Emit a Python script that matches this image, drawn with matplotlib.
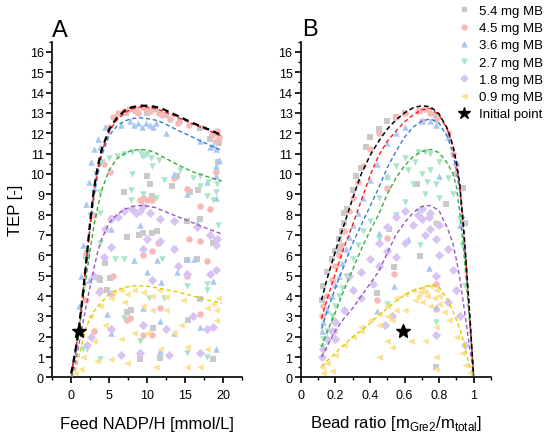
import matplotlib
matplotlib.use("Agg")
import matplotlib.pyplot as plt
from matplotlib.ticker import MultipleLocator, FixedLocator
from matplotlib.lines import Line2D

plt.rcParams["font.family"] = ["Liberation Sans", "DejaVu Sans"]
plt.rcParams["mathtext.fontset"] = "custom"
plt.rcParams["mathtext.rm"] = "Liberation Sans"

labels = ["5.4 mg MB", "4.5 mg MB", "3.6 mg MB", "2.7 mg MB", "1.8 mg MB", "0.9 mg MB"]
markers = ["s", "o", "^", "v", "D", "<"]
pale = ["#c9c9c9", "#f8b9b9", "#aac8f2", "#a8e6c8", "#d8c4f2", "#fde192"]
lines = ["#000000", "#ff1a1a", "#2f7fd0", "#3aaa3a", "#9a55c4", "#d8d000"]

# ---- panel A: TEP vs feed NADP/H ----
a_x5 = [7.2, 8.5, 10, 11, 12.5, 14.3, 17, 18.3, 19.1, 19.5, 6.9, 10, 10.4, 10.6, 13.2, 13.9, 15.6, 16.7,
        8.9, 9.5, 10.6, 11.3, 7.3, 15.2, 16.9, 15.2, 16.5, 18.7, 19.1, 3.8, 4.7, 7.8, 7.4, 10.8, 11.7, 9.1,
        15.4, 17, 2.1, 18.7, 4.5, 19.3, 1.9, 3.7, 5.1]
a_y5 = [13.0, 13.1, 13.0, 13.2, 12.9, 12.6, 12.25, 11.7, 12.0, 11.5, 9.1, 9.9, 9.5, 8.9, 9.4, 9.9, 9.1, 9.2,
        7.0, 7.1, 7.1, 7.2, 6.9, 7.7, 7.8, 5.75, 5.8, 6.6, 6.75, 4.8, 4.3, 3.3, 3.2, 2.45, 0.95, 0.9,
        2.8, 3.85, 6.1, 0.9, 5.6, 10.6, 5.95, 4.9, 4.9]
a_x4 = [5, 5.5, 6.2, 7, 7.6, 8.2, 8.8, 9.3, 9.8, 10.3, 10.8, 11.5, 12, 13, 14, 15.5, 18.5, 19, 19.5, 19.2,
        4.3, 5.1, 3.8, 9.1, 10, 10.6, 9.5, 15.2, 17, 19, 13.5, 3.0, 5.2, 11.4, 10.6, 9.4, 15.5, 16.9, 17.8,
        15.2, 5.5, 3.8, 7.4, 7.7, 9.4, 10.6, 11.7, 17, 3.0, 2.0, 18.3]
a_y4 = [12.3, 12.8, 13.0, 13.1, 13.2, 13.2, 13.0, 13.3, 13.2, 13.1, 13.2, 13.0, 12.9, 12.7, 12.5, 12.4, 11.9, 11.6, 11.8, 12.1,
        10.5, 10.1, 10.6, 8.7, 8.7, 8.7, 8.8, 9.25, 8.4, 10.1, 9.8, 8.0, 7.85, 6.6, 6.2, 6.0, 6.8, 6.7, 5.7,
        5.0, 5.0, 4.3, 2.8, 2.9, 2.1, 2.1, 3.4, 3.1, 2.3, 3.8, 8.3]
a_x3 = [2.6, 3.0, 3.5, 4.5, 6.5, 7.7, 8.3, 8.8, 9.3, 9.8, 10.3, 10.8, 11.2, 12.5, 17.0, 18.3, 18.7, 19.1, 19.4,
        1.0, 1.3, 1.6, 2.0, 2.3, 3.8, 3.0, 13.5, 15.2, 17.8, 19.1, 19.1, 19.1, 9.5,
        5.2, 9.1, 16.5, 8.3, 11.3, 15.2, 16.1, 10, 13.9, 18.7, 4.7, 9.4, 11.7, 11.7, 13.5, 17, 19.1, 2.4, 5.2, 11.8]
a_y3 = [10.6, 11.2, 11.7, 12.3, 12.4, 12.6, 12.4, 12.5, 12.3, 12.5, 12.4, 12.3, 12.5, 12.0, 11.6, 11.3, 11.4, 11.2, 10.7,
        3.5, 5.0, 6.5, 8.5, 9.6, 11.3, 9.3, 10.0, 9.0, 9.6, 10.4, 9.9, 8.8, 11.0,
        7.3, 7.5, 7.6, 5.75, 5.75, 5.8, 5.8, 5.2, 5.2, 4.75, 3.1, 3.4, 2.75, 1.3, 2.2, 2.5, 1.4, 4.8, 2.2, 4.7]
a_x2 = [3.3, 4.0, 5.0, 6.0, 7.0, 8.0, 9.0, 9.5, 10.0, 10.5, 11.5, 16, 17, 18, 19.2,
        7.8, 7.8, 9.4, 11.1, 17, 17.8, 18.7, 19.1, 14.3, 3.8, 3.8, 10.6, 8.0, 12.2,
        3.8, 6.9, 2.0, 13.5, 15.2, 17.8, 10.2, 1.6, 3.8, 15.2, 17.8, 17.8, 9.1, 6.9, 2.1, 5.8, 12.0, 2.5, 12.2, 19.3]
a_y2 = [10.0, 10.6, 10.8, 10.9, 11.0, 11.1, 11.1, 10.9, 11.0, 10.8, 10.7, 9.8, 9.9, 9.6, 9.5,
        9.2, 8.7, 9.0, 8.8, 9.4, 8.9, 8.7, 9.1, 10.2, 9.1, 8.1, 10.4, 10.0, 9.7,
        6.6, 5.8, 5.75, 6.3, 4.5, 4.6, 3.9, 1.4, 0.9, 1.2, 1.0, 4.3, 1.8, 2.9, 1.4, 5.8, 5.8, 8.0, 3.9, 7.5]
a_x1 = [5.2, 6.1, 7.0, 8.0, 9.1, 10.4, 11.7, 13.5, 18.3, 19.1, 10, 11.7, 9.4, 13.5, 5.2, 4.3, 15.2, 18.3, 19.1,
        5.2, 9.4, 12.5, 5.2, 6.5, 9.1, 12.9, 17, 17.8, 18.7, 2.1, 4.5, 8.5, 16.5, 19.2, 14.0, 3.0, 2.6, 3.7,
        10.6, 16, 9.5]
a_y1 = [7.8, 7.9, 8.2, 8.3, 8.2, 8.1, 7.8, 7.7, 7.0, 6.5, 6.8, 6.7, 6.3, 6.3, 6.4, 5.9, 5.1, 5.1, 5.3,
        4.1, 2.6, 2.4, 2.4, 1.1, 1.2, 1.1, 1.2, 2.4, 2.5, 1.6, 7.3, 8.1, 7.4, 6.8, 5.5, 5.0, 2.0, 4.2,
        4.8, 3.0, 8.4]
a_x0 = [5.2, 5.5, 6.5, 7.3, 8.3, 9.4, 10.6, 11.5, 12.5, 14.7, 17.8, 19.1, 19.1, 18.7, 19.3, 9.4, 10.6, 3.8,
        2.5, 6.5, 8.3, 10, 11.7, 13.5, 15.2, 17, 1.6, 3.4, 5.2, 7.4, 11.1, 1.3, 0.5, 15.2, 17.8, 4.5, 7.0,
        12.5, 3.0, 14.5]
a_y0 = [3.9, 4.2, 4.3, 4.1, 4.3, 4.2, 4.0, 4.3, 3.95, 3.8, 3.4, 3.3, 2.8, 3.6, 3.9, 3.5, 3.3, 3.5,
        3.0, 1.9, 2.2, 2.2, 1.4, 2.2, 1.5, 0.5, 1.0, 0.8, 0.9, 0.7, 0.5, 0.4, 0.2, 0.5, 1.4, 2.6, 3.7,
        3.3, 1.8, 2.6]

# fitted model curves
a_fit_x = [0, 0.5, 1, 1.5, 2, 2.5, 3, 3.5, 4, 5, 6, 7, 8, 9, 10, 11, 12, 14, 16, 18, 19.8]
a_fit5 = [0.2, 1.2, 2.4, 4.0, 5.8, 7.7, 9.3, 10.4, 11.2, 12.2, 12.75, 13.1, 13.28, 13.35, 13.35, 13.3, 13.2, 12.85, 12.5, 12.2, 11.9]
a_fit4 = [0.2, 1.2, 2.4, 4.0, 5.8, 7.6, 9.2, 10.3, 11.1, 12.1, 12.65, 13.0, 13.2, 13.28, 13.28, 13.22, 13.1, 12.78, 12.45, 12.15, 11.85]
a_fit3 = [0.2, 1.2, 2.4, 4.0, 5.7, 7.4, 8.9, 10.0, 10.9, 11.9, 12.35, 12.6, 12.72, 12.76, 12.72, 12.65, 12.52, 12.15, 11.8, 11.45, 11.15]
a_fit2 = [0.1, 1.0, 2.2, 3.6, 5.0, 6.3, 7.5, 8.4, 9.2, 10.2, 10.75, 11.0, 11.15, 11.2, 11.18, 11.05, 10.85, 10.45, 10.1, 9.85, 9.65]
a_fit1 = [0.0, 0.6, 1.6, 2.6, 3.6, 4.5, 5.4, 6.2, 6.8, 7.6, 8.0, 8.25, 8.4, 8.45, 8.42, 8.35, 8.2, 7.9, 7.6, 7.3, 7.05]
a_fit0 = [0.0, 0.3, 1.0, 1.8, 2.5, 2.9, 3.25, 3.5, 3.7, 4.1, 4.3, 4.42, 4.5, 4.5, 4.48, 4.42, 4.35, 4.2, 4.0, 3.8, 3.65]

# ---- panel B: TEP vs bead ratio ----
b_x5 = [0.12, 0.13, 0.15, 0.18, 0.2, 0.22, 0.24, 0.25, 0.27, 0.3, 0.32, 0.35, 0.38, 0.4, 0.45, 0.5, 0.55, 0.6,
        0.69, 0.78, 0.9, 0.94, 0.95, 0.67, 0.51, 0.84, 0.69, 0.54, 0.44, 0.19, 0.78, 0.25, 0.23]
b_y5 = [3.8, 4.5, 5.2, 5.8, 6.2, 6.8, 7.2, 7.6, 8.3, 9.2, 9.9, 10.3, 11.3, 11.8, 12.2, 12.6, 12.8, 13.0,
        13.1, 12.9, 10.0, 9.3, 7.6, 9.5, 7.3, 8.5, 5.95, 5.45, 4.15, 2.75, 0.5, 8.1, 6.3]
b_x4 = [0.12, 0.13, 0.15, 0.18, 0.2, 0.22, 0.23, 0.25, 0.28, 0.3, 0.33, 0.36, 0.4, 0.45, 0.55, 0.6, 0.68,
        0.72, 0.75, 0.78, 0.85, 0.88, 0.9, 0.5, 0.54, 0.44, 0.785, 0.19, 0.785, 0.78, 0.7, 0.5]
b_y4 = [3.0, 3.5, 4.0, 4.8, 5.5, 6.0, 6.5, 7.2, 8.2, 8.8, 9.6, 10.4, 11.2, 12.0, 12.8, 13.0, 13.1,
        13.2, 13.0, 12.7, 12.0, 11.0, 10.5, 6.85, 5.1, 3.8, 3.35, 2.3, 4.6, 7.6, 12.6, 9.3]
b_x3 = [0.12, 0.13, 0.15, 0.18, 0.2, 0.22, 0.24, 0.26, 0.28, 0.3, 0.33, 0.36, 0.4, 0.44, 0.5, 0.55, 0.6,
        0.7, 0.75, 0.78, 0.85, 0.9, 0.93, 0.92, 0.44, 0.54, 0.74, 0.62, 0.5, 0.8, 0.45, 0.785]
b_y3 = [2.3, 2.7, 3.3, 4.0, 4.6, 5.0, 5.6, 6.3, 6.9, 7.5, 8.1, 8.8, 9.7, 10.5, 11.5, 12.0, 12.3,
        12.6, 12.6, 12.4, 11.8, 10.6, 8.0, 7.5, 3.25, 4.5, 5.4, 6.8, 9.9, 9.9, 7.1, 3.45]
b_x2 = [0.12, 0.13, 0.15, 0.18, 0.2, 0.22, 0.24, 0.26, 0.3, 0.33, 0.36, 0.4, 0.45, 0.5, 0.55, 0.6, 0.68,
        0.72, 0.75, 0.8, 0.85, 0.88, 0.92, 0.93, 0.95, 0.65, 0.7, 0.72, 0.75, 0.78, 0.8, 0.68, 0.6, 0.55,
        0.78, 0.69, 0.45, 0.5, 0.78, 0.62, 0.66, 0.73]
b_y2 = [1.5, 1.9, 2.3, 3.0, 3.5, 4.0, 4.4, 5.0, 5.8, 6.5, 7.2, 7.7, 8.8, 9.8, 10.4, 10.8, 11.1,
        11.1, 11.0, 10.6, 9.8, 9.0, 7.8, 6.5, 4.5, 9.5, 10.0, 9.0, 10.2, 9.5, 8.8, 8.2, 8.6, 8.0,
        7.5, 6.5, 6.8, 3.6, 2.7, 10.2, 10.6, 9.6]
b_x1 = [0.12, 0.13, 0.15, 0.18, 0.2, 0.25, 0.3, 0.35, 0.4, 0.45, 0.5, 0.55, 0.6, 0.7, 0.75, 0.8, 0.85,
        0.88, 0.9, 0.92, 0.95, 0.65, 0.7, 0.72, 0.75, 0.78, 0.8, 0.78, 0.6, 0.5, 0.45, 0.42, 0.28, 0.55,
        0.49, 0.78, 0.53, 0.85, 0.35, 0.2, 0.68, 0.74]
b_y1 = [1.0, 1.4, 1.9, 2.3, 2.7, 3.3, 4.3, 5.2, 5.8, 6.6, 7.4, 7.9, 8.2, 8.3, 8.1, 7.5, 6.3,
        5.3, 4.3, 3.0, 1.6, 7.5, 7.8, 7.0, 7.3, 6.8, 6.0, 5.0, 6.6, 6.2, 5.5, 4.6, 5.0, 5.9,
        2.6, 2.1, 3.0, 3.7, 3.9, 1.9, 8.0, 7.9]
b_x0 = [0.12, 0.15, 0.2, 0.25, 0.3, 0.35, 0.4, 0.45, 0.5, 0.55, 0.6, 0.65, 0.68, 0.7, 0.72, 0.75, 0.78,
        0.8, 0.7, 0.75, 0.66, 0.8, 0.83, 0.86, 0.9, 0.93, 0.95, 0.45, 0.5, 0.53, 0.5, 0.45, 0.53, 0.64,
        0.72, 0.78, 0.78, 0.6, 0.55, 0.35, 0.13, 0.18, 0.78, 0.98, 0.73, 0.77, 0.69]
b_y0 = [0.5, 0.7, 1.1, 1.6, 2.0, 2.5, 2.8, 3.1, 3.5, 3.9, 4.1, 4.3, 4.0, 4.4, 4.2, 4.5, 4.3,
        4.0, 3.7, 3.5, 3.8, 3.6, 3.2, 2.8, 2.0, 1.2, 0.6, 2.6, 3.0, 2.8, 1.8, 1.0, 1.5, 1.8,
        1.8, 2.5, 1.0, 3.3, 3.3, 2.3, 0.2, 0.3, 0.4, 0.2, 4.0, 3.9, 4.2]

b_fit_x = [0.12, 0.15, 0.2, 0.25, 0.3, 0.35, 0.4, 0.45, 0.5, 0.55, 0.6, 0.65, 0.7, 0.75, 0.8, 0.85,
           0.88, 0.9, 0.92, 0.94, 0.96, 0.98, 1.0]
b_fit5 = [3.8, 4.8, 6.2, 7.5, 8.8, 10.0, 10.9, 11.6, 12.2, 12.65, 13.0, 13.25, 13.35, 13.3, 12.95, 12.2, 11.4, 10.6, 9.5, 7.6, 5.3, 2.8, 0.1]
b_fit4 = [2.9, 3.8, 5.1, 6.4, 7.5, 8.7, 9.9, 10.9, 11.6, 12.1, 12.55, 12.9, 13.15, 13.22, 12.9, 12.15, 11.35, 10.5, 9.4, 7.5, 5.2, 2.7, 0.1]
b_fit3 = [2.4, 3.2, 4.4, 5.5, 6.6, 7.5, 8.4, 9.3, 10.3, 11.1, 11.8, 12.3, 12.6, 12.7, 12.5, 11.8, 11.0, 10.2, 9.1, 7.3, 5.0, 2.6, 0.1]
b_fit2 = [1.5, 2.2, 3.2, 4.3, 5.3, 6.3, 7.2, 8.0, 9.0, 9.8, 10.4, 10.85, 11.1, 11.2, 11.05, 10.5, 10.0, 9.4, 8.1, 6.5, 4.5, 2.3, 0.1]
b_fit1 = [1.0, 1.5, 2.3, 2.9, 3.4, 4.0, 4.6, 5.2, 6.1, 7.0, 7.6, 8.1, 8.4, 8.45, 8.2, 7.3, 6.6, 5.8, 4.9, 3.7, 2.5, 1.3, 0.1]
b_fit0 = [0.55, 0.8, 1.2, 1.6, 2.0, 2.3, 2.65, 3.05, 3.4, 3.75, 4.05, 4.25, 4.4, 4.55, 4.45, 3.8, 3.25, 2.85, 2.4, 1.8, 1.1, 0.5, 0.1]

init_a = (1.0, 2.3)
init_b = (0.59, 2.3)

a_pts = [(a_x5, a_y5), (a_x4, a_y4), (a_x3, a_y3), (a_x2, a_y2), (a_x1, a_y1), (a_x0, a_y0)]
b_pts = [(b_x5, b_y5), (b_x4, b_y4), (b_x3, b_y3), (b_x2, b_y2), (b_x1, b_y1), (b_x0, b_y0)]
a_fits = [a_fit5, a_fit4, a_fit3, a_fit2, a_fit1, a_fit0]
b_fits = [b_fit5, b_fit4, b_fit3, b_fit2, b_fit1, b_fit0]

fig = plt.figure(figsize=(5.5, 4.35), dpi=100)
axA = fig.add_axes([0.095, 0.130, 0.3455, 0.772])
axB = fig.add_axes([0.547, 0.130, 0.3455, 0.772])

def draw(ax, pts, fit_x, fits, star, black_lw):
    for i, (xs, ys) in enumerate(pts):
        ax.scatter(xs, ys, s=22, marker=markers[i], c=pale[i], linewidths=0, zorder=2 + i * 0.01)
    # black drawn last so it sits on top
    for i in range(5, -1, -1):
        lw = black_lw if i == 0 else 1.0
        ax.plot(fit_x, fits[i], color=lines[i], lw=lw, dashes=(3, 2), zorder=4)
    ax.plot(*star, marker="*", color="black", ms=10, ls="none", zorder=5)
    ax.set_ylim(0, 16.5)
    ax.yaxis.set_major_locator(MultipleLocator(1))
    ax.yaxis.set_minor_locator(MultipleLocator(0.5))
    for s in ["top", "right"]:
        ax.spines[s].set_visible(False)
    for s in ["left", "bottom"]:
        ax.spines[s].set_linewidth(1.2)
    ax.tick_params(which="major", direction="out", length=4, width=1.2, labelsize=9)
    ax.tick_params(axis="x", which="major", pad=4)
    ax.tick_params(axis="y", which="major", pad=2)
    ax.tick_params(which="minor", direction="out", length=2.5, width=1.0)

draw(axA, a_pts, a_fit_x, a_fits, init_a, 1.6)
draw(axB, b_pts, b_fit_x, b_fits, init_b, 1.1)

axA.set_xlim(-2.5, 22.5)
axA.xaxis.set_major_locator(FixedLocator([0, 5, 10, 15, 20]))
axA.xaxis.set_minor_locator(FixedLocator([-2.5, 2.5, 7.5, 12.5, 17.5, 22.5]))
axA.set_xlabel("Feed NADP/H [mmol/L]", fontsize=12, labelpad=11)
axA.set_ylabel("TEP [-]", fontsize=12, labelpad=5)

axB.set_xlim(0, 1.1)
axB.xaxis.set_major_locator(FixedLocator([0, 0.2, 0.4, 0.6, 0.8, 1.0]))
axB.set_xticklabels(["0", "0.2", "0.4", "0.6", "0.8", "1"])
axB.xaxis.set_minor_locator(MultipleLocator(0.1))
axB.set_xlabel(r"Bead ratio [m$_\mathregular{Gre2}$/m$_\mathregular{total}$]", fontsize=12, labelpad=9)

fig.text(0.095, 0.915, "A", fontsize=17, va="baseline", ha="left")
fig.text(0.549, 0.918, "B", fontsize=17, va="baseline", ha="left")

handles = [Line2D([], [], marker=markers[i], color=pale[i], ls="none", ms=3.5) for i in range(6)]
handles.append(Line2D([], [], marker="*", color="black", ls="none", ms=9))
fig.legend(handles, labels + ["Initial point"], loc="upper left", bbox_to_anchor=(0.815, 1.005),
           frameon=False, fontsize=9.5, handletextpad=0.5, labelspacing=0.38, handlelength=1.2,
           borderaxespad=0.2)

fig.savefig("out.png", dpi=100)
